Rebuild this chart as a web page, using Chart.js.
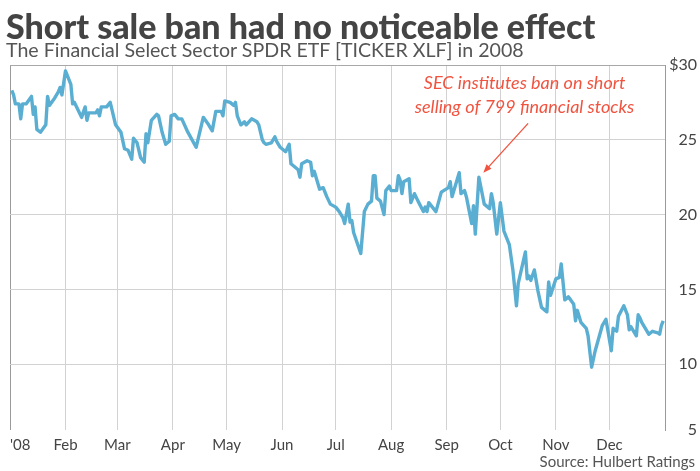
<!DOCTYPE html>
<html>
<head>
<meta charset="utf-8">
<script src="https://cdn.jsdelivr.net/npm/chart.js@4.4.1/dist/chart.umd.min.js"></script>
<style>
  body { margin: 0; background: #fff; font-family: Lato, sans-serif; }
  #wrap { position: relative; width: 700px; height: 471px; overflow: hidden; }
  #chart-box { position: absolute; left: 0; top: 0; width: 700px; height: 471px; }
  .title { position: absolute; left: 6px; top: 7px; font-size: 34px; line-height: 38px; font-weight: 900; color: #444; white-space: nowrap; }
  .subtitle { position: absolute; left: 6px; top: 38px; font-size: 19.6px; line-height: 23px; color: #555; white-space: nowrap; }
  .source { position: absolute; right: 5px; top: 452px; font-size: 15px; line-height: 18px; color: #555; white-space: nowrap; }
</style>
</head>
<body>
<div id="wrap">
  <div id="chart-box"><canvas id="xlf-chart"></canvas></div>
  <div class="title">Short sale ban had no noticeable effect</div>
  <div class="subtitle">The Financial Select Sector SPDR ETF [TICKER XLF] in 2008</div>
  <div class="source">Source: Hulbert Ratings</div>
</div>
<script>
// day of year (Jan 1 = 0) for each reading
const days = [
  1, 2, 3, 5, 6, 7, 9, 12, 13, 14, 15, 17, 20, 21, 22, 25, 27, 28, 29,
  31, 34, 35, 36, 40, 42, 43, 44, 48, 49, 50, 51, 54, 56, 59,
  62, 64, 66, 68, 69, 71, 73, 75, 76, 77, 79, 82, 83, 85, 87, 89, 90,
  92, 94, 96, 99, 104, 108, 111, 113, 115, 118, 119, 120,
  123, 125, 126, 127, 129, 131, 132, 135, 138, 139, 141, 142, 143, 146, 148, 149, 151,
  153, 154, 156, 157, 159, 161, 162, 163, 166, 168, 169, 170, 172, 173, 175, 177, 179,
  182, 184, 186, 187, 189, 190, 191, 192, 196, 198, 200, 202, 203, 204, 205, 207, 209, 210, 212,
  213, 216, 217, 218, 219, 220, 223, 224, 226, 228, 231, 232, 233, 234, 236, 238, 241,
  245, 246, 247, 251, 252, 254, 255, 258, 259, 260, 262, 265, 268, 269, 270, 272,
  274, 276, 279, 281, 283, 284, 288, 289, 290, 291, 293, 295, 297, 300, 301, 302,
  305, 307, 308, 310, 312, 315, 316, 317, 319, 322, 323, 325, 327, 331, 333,
  336, 337, 339, 340, 343, 345, 346, 347, 350, 351, 352, 353, 357, 359, 362, 363, 364, 365
];
const prices = [
  28.3, 28.0, 27.4, 27.4, 26.4, 27.4, 27.4, 27.9, 26.7, 27.2, 25.7, 25.5, 26.0, 27.9, 27.3, 27.8, 28.2, 28.5, 28.0,
  29.6, 28.7, 27.4, 27.5, 26.5, 27.2, 26.3, 26.8, 26.8, 27.0, 26.6, 27.2, 27.2, 27.5, 26.0,
  25.5, 24.4, 24.3, 23.7, 25.1, 24.8, 23.8, 23.5, 25.4, 24.8, 26.3, 26.7, 26.6, 25.5, 24.7, 24.9, 26.6,
  26.7, 26.4, 26.4, 25.6, 24.5, 26.5, 26.0, 25.6, 26.9, 26.9, 26.6, 27.6,
  27.5, 27.3, 27.5, 26.6, 26.0, 26.2, 26.0, 26.4, 26.2, 26.0, 25.0, 24.8, 24.7, 24.8, 25.2, 24.9, 24.5,
  24.3, 24.2, 24.7, 23.4, 23.2, 23.0, 22.5, 23.4, 23.6, 23.5, 22.6, 22.9, 22.1, 21.7, 21.8, 21.2, 20.7,
  20.5, 20.2, 19.8, 19.4, 20.7, 19.5, 19.6, 18.8, 17.4, 20.2, 20.7, 20.9, 22.6, 22.6, 21.1, 20.9, 20.0, 21.6, 21.9,
  21.6, 21.6, 22.6, 22.3, 21.4, 22.2, 22.4, 20.8, 21.4, 20.9, 20.2, 20.5, 20.2, 20.8, 20.5, 20.2, 21.5,
  21.8, 22.2, 21.2, 22.8, 21.4, 21.6, 21.2, 19.4, 20.6, 18.7, 22.5, 20.7, 20.4, 21.4, 20.8, 18.7,
  20.8, 18.9, 18.0, 16.3, 13.9, 15.4, 17.5, 15.7, 15.9, 15.6, 16.3, 14.9, 13.8, 13.5, 15.5, 14.6,
  15.7, 15.8, 16.7, 14.3, 14.5, 14.0, 12.9, 13.6, 12.8, 12.4, 11.9, 9.8, 10.9, 12.6, 13.0,
  10.9, 12.4, 12.2, 13.2, 13.9, 13.3, 12.3, 12.5, 11.9, 13.3, 13.1, 12.8, 12.0, 12.2, 12.1, 12.0, 12.6, 12.9
];

const monthStarts = [0, 31, 60, 91, 121, 152, 182, 213, 244, 274, 305, 335, 366];
const monthLabels = ["'08", 'Feb', 'Mar', 'Apr', 'May', 'Jun', 'Jul', 'Aug', 'Sep', 'Oct', 'Nov', 'Dec', ''];

const yMin = 5.6;
const yMax = 30;
const priceTicks = [yMin, 10, 15, 20, 25, 30];
const priceLabels = ['5', '10', '15', '20', '25', '$30'];

const noteLines = ['SEC institutes ban on short', 'selling of 799 financial stocks'];
const noteDay = 287.5;
const noteValues = [28.8, 27.2];
const arrowFrom = [289.5, 26.1];
const arrowTo = [264.5, 22.8];

const LINE_BLUE = '#5aaed2';
const NOTE_RED = '#f1533f';

const annotationPlugin = {
  id: 'banNote',
  afterDatasetsDraw(chart) {
    const { ctx, scales: { x, y } } = chart;
    ctx.save();
    ctx.fillStyle = NOTE_RED;
    ctx.strokeStyle = NOTE_RED;
    ctx.font = 'italic 18px Lato';
    ctx.textAlign = 'center';
    ctx.textBaseline = 'middle';
    noteLines.forEach((line, i) => {
      ctx.fillText(line, x.getPixelForValue(noteDay), y.getPixelForValue(noteValues[i]));
    });

    const x1 = x.getPixelForValue(arrowFrom[0]), y1 = y.getPixelForValue(arrowFrom[1]);
    const x2 = x.getPixelForValue(arrowTo[0]), y2 = y.getPixelForValue(arrowTo[1]);
    const ang = Math.atan2(y2 - y1, x2 - x1);
    const head = 9;
    ctx.lineWidth = 1.3;
    ctx.beginPath();
    ctx.moveTo(x1, y1);
    ctx.lineTo(x2 - Math.cos(ang) * head * 0.8, y2 - Math.sin(ang) * head * 0.8);
    ctx.stroke();
    ctx.beginPath();
    ctx.moveTo(x2, y2);
    ctx.lineTo(x2 - head * Math.cos(ang - 0.38), y2 - head * Math.sin(ang - 0.38));
    ctx.lineTo(x2 - head * Math.cos(ang + 0.38), y2 - head * Math.sin(ang + 0.38));
    ctx.closePath();
    ctx.fill();
    ctx.restore();
  }
};

new Chart(document.getElementById('xlf-chart'), {
  type: 'line',
  data: {
    datasets: [{
      data: days.map((d, i) => ({ x: d, y: prices[i] })),
      borderColor: LINE_BLUE,
      borderWidth: 3.4,
      borderJoinStyle: 'round',
      pointRadius: 0,
      tension: 0,
      fill: false,
    }],
  },
  options: {
    responsive: true,
    maintainAspectRatio: false,
    animation: false,
    layout: { padding: { left: 10, right: 3, top: 65, bottom: 0 } },
    plugins: {
      legend: { display: false },
      tooltip: { enabled: false },
    },
    scales: {
      x: {
        type: 'linear',
        min: 0,
        max: 366,
        afterBuildTicks: (scale) => { scale.ticks = monthStarts.map(v => ({ value: v })); },
        afterFit: (scale) => { scale.height = 41; },
        grid: {
          drawTicks: false,
          color: (ctx) => (ctx.index === 0 ? '#9a9a9a' : '#d2d2d2'),
          lineWidth: 1,
        },
        border: { display: false },
        ticks: {
          align: 'inner',
          autoSkip: false,
          maxRotation: 0,
          padding: 6,
          color: '#444',
          font: { family: 'Lato', size: 15 },
          callback: (v, i) => monthLabels[i],
        },
      },
      y: {
        position: 'right',
        min: yMin,
        max: yMax,
        afterBuildTicks: (scale) => { scale.ticks = priceTicks.map(v => ({ value: v })); },
        afterFit: (scale) => { scale.width = 32; },
        grid: {
          drawTicks: false,
          color: (ctx) => {
            if (ctx.tick && ctx.tick.value === yMin) return 'rgba(0,0,0,0)';
            if (ctx.tick && ctx.tick.value === yMax) return '#a8a8a8';
            return '#d2d2d2';
          },
        },
        border: { color: '#9a9a9a' },
        ticks: {
          crossAlign: 'far',
          padding: 4,
          color: '#444',
          font: { family: 'Lato', size: 16 },
          callback: (v, i) => priceLabels[i],
        },
      },
    },
  },
  plugins: [annotationPlugin],
});
</script>
</body>
</html>
